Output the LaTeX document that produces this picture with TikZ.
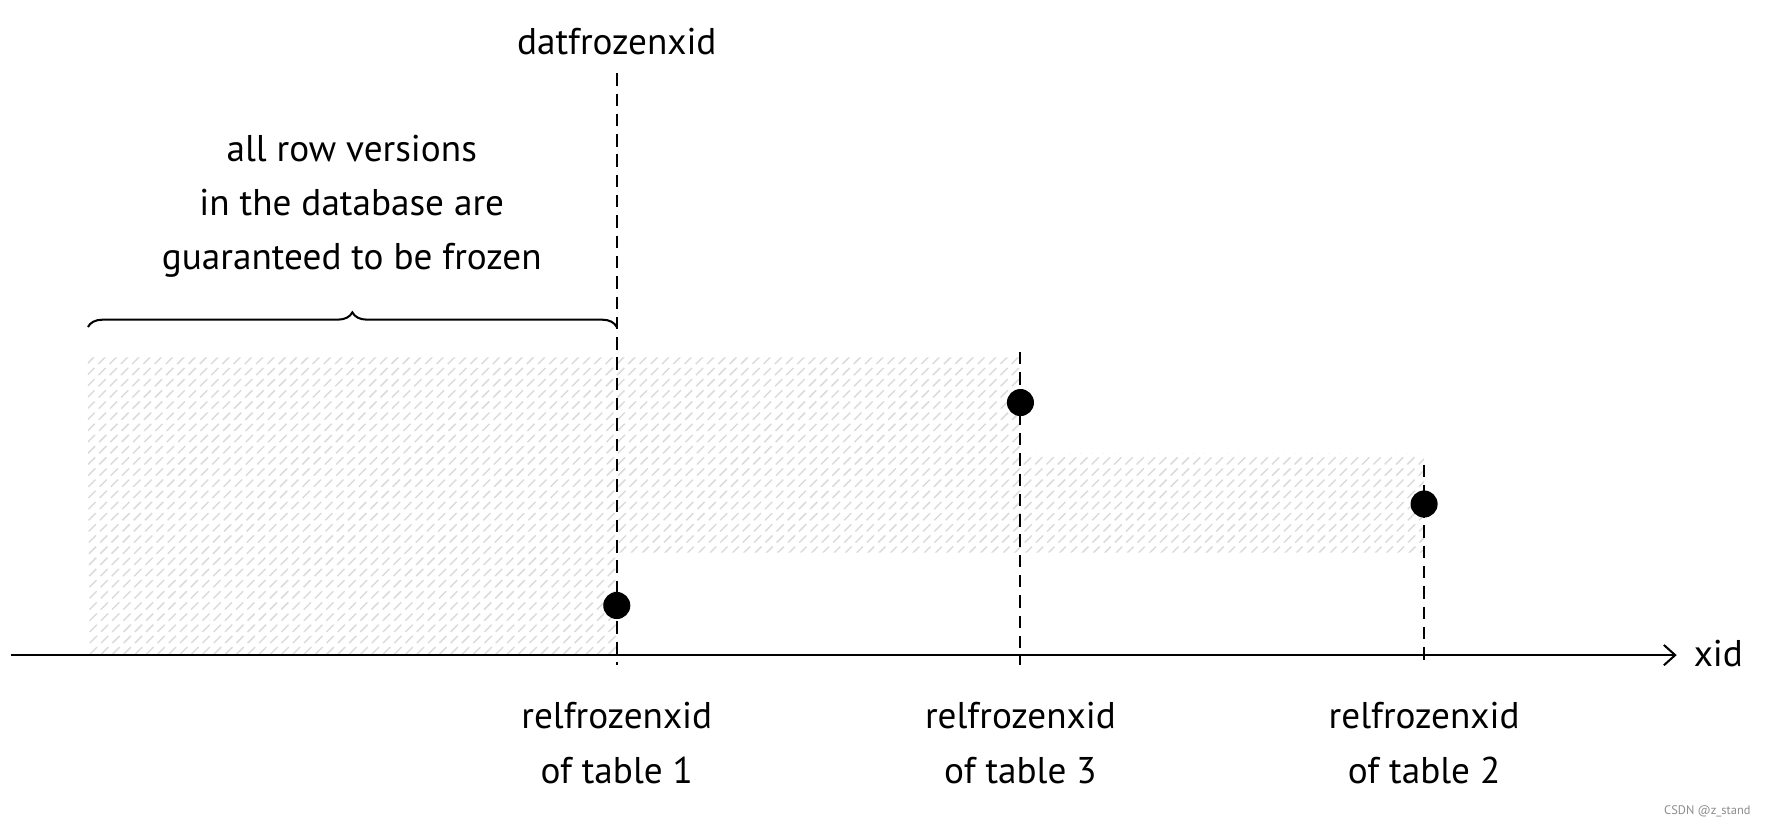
\documentclass[tikz,border=0pt]{standalone}
\usepackage{fontspec}
\setmainfont{PT Sans}
\usetikzlibrary{decorations.pathreplacing,arrows.meta}
\begin{document}
\begin{tikzpicture}[x=1pt,y=-1pt,
  lbl/.style={font=\fontsize{33}{48}\selectfont,align=center,inner sep=0pt},
  vline/.style={line width=1.8pt,dash pattern=on 11pt off 7pt},
  hatch/.style={line width=1.3pt,black!14,dash pattern=on 9pt off 5pt},
  dot/.style={circle,fill=black,minimum size=24pt,inner sep=0pt}]
\useasboundingbox (0,0) rectangle (1568,734);
\begin{scope}
\clip (78,317) -- (905,317) -- (905,402) -- (1263,402) -- (1263,490) -- (547,490) -- (547,581) -- (78,581) -- cycle;
\foreach \i in {0,...,190} {
  \draw[hatch] (\i*10-200,600) -- ++(300,-300);
}
\end{scope}
\coordinate (a0) at (10,581);
\coordinate (a1) at (1487,581);
\draw[line width=1.8pt,-{Straight Barb[length=10pt,width=18pt]}] (a0) -- (a1);
\node[lbl,anchor=west] (xid) at (1502,580) {xid};
\coordinate (t1) at (547,65); \coordinate (b1) at (547,590);
\coordinate (t3) at (905,312); \coordinate (b3) at (905,590);
\coordinate (t2) at (1263,412); \coordinate (b2) at (1263,590);
\draw[vline] (t1) -- (b1);
\draw[vline] (t3) -- (b3);
\draw[vline] (t2) -- (b2);
\node[dot] (d1) at (547,537) {};
\node[dot] (d3) at (905,357) {};
\node[dot] (d2) at (1263,447) {};
\node[lbl] (dat) at (547,37) {datfrozenxid};
\node[lbl] (l1) at (547,659) {relfrozenxid\\of table 1};
\node[lbl] (l3) at (905,659) {relfrozenxid\\of table 3};
\node[lbl] (l2) at (1263,659) {relfrozenxid\\of table 2};
\node[lbl] (txt) at (312,183) {all row versions\\in the database are\\guaranteed to be frozen};
\coordinate (br0) at (78,290); \coordinate (br1) at (547,290);
\draw[line width=1.8pt,decorate,decoration={brace,amplitude=13pt}] (br0) -- (br1);
\node[font=\fontsize{11}{12}\selectfont,text=black!45,anchor=east] (wm) at (1556,720) {CSDN @z\_stand};
\end{tikzpicture}
\end{document}
